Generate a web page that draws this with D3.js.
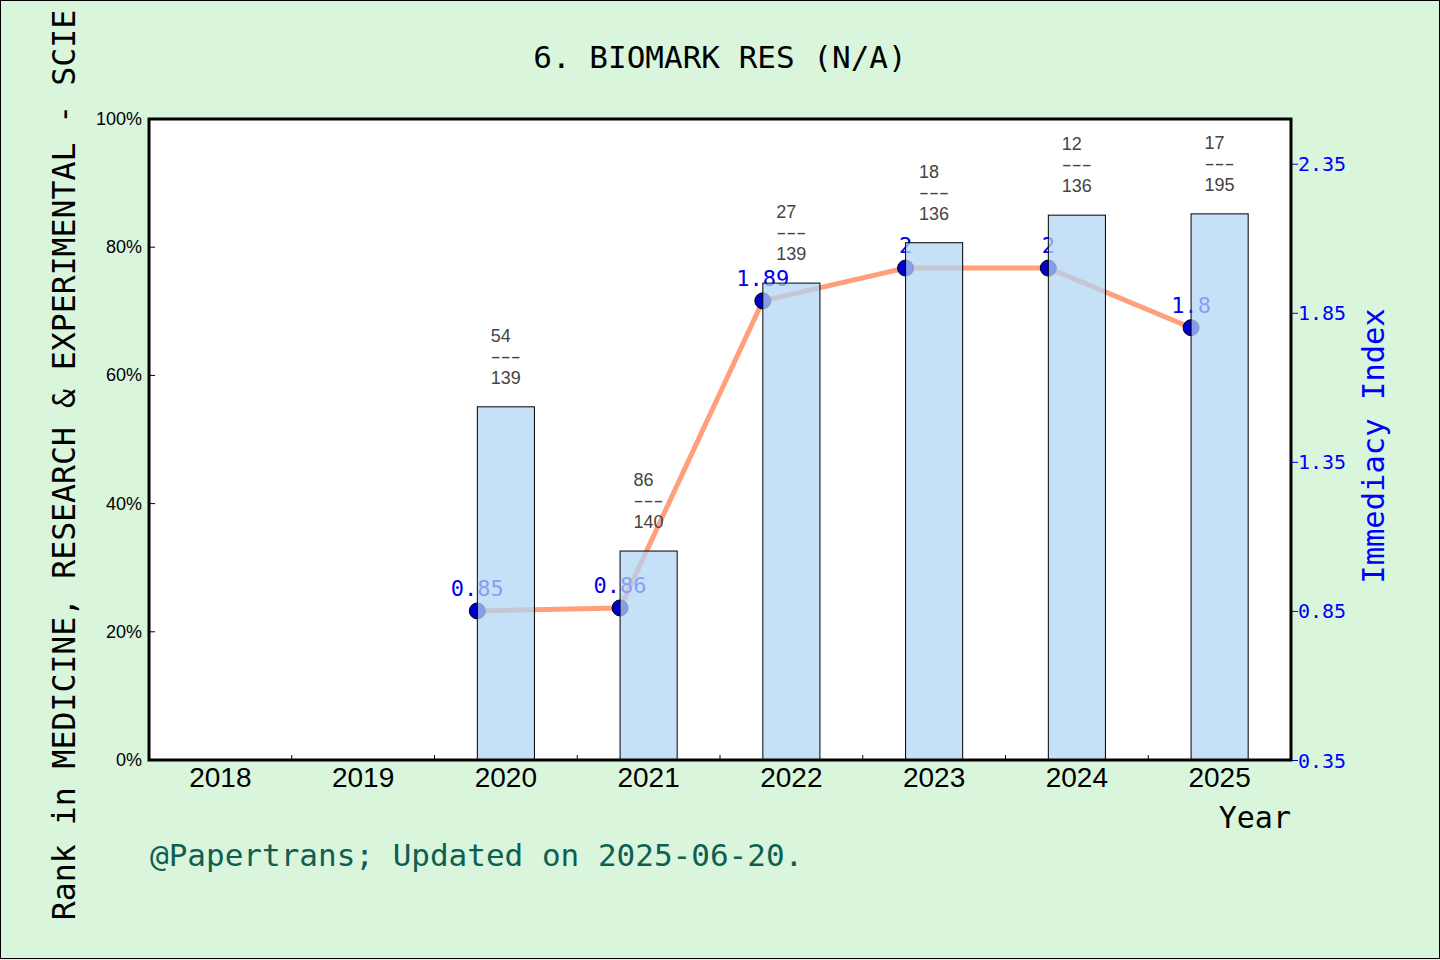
<!DOCTYPE html>
<html>
<head>
<meta charset="utf-8">
<script src="https://cdn.jsdelivr.net/npm/d3@7"></script>
<style>
  html, body { margin: 0; padding: 0; background: #d9f6dd; }
  svg { display: block; }
</style>
</head>
<body>
<div id="chart"></div>
<script>
var years = ["2018", "2019", "2020", "2021", "2022", "2023", "2024", "2025"];
var rankYears = ["2020", "2021", "2022", "2023", "2024", "2025"];
var rankPct = [55.1, 32.6, 74.4, 80.7, 85.0, 85.2];
var rankPos = ["54", "86", "27", "18", "12", "17"];
var rankTotal = ["139", "140", "139", "136", "136", "195"];
var iiValues = [0.85, 0.86, 1.89, 2, 2, 1.8];
var iiLabels = ["0.85", "0.86", "1.89", "2", "2", "1.8"];
var leftTicks = [0, 20, 40, 60, 80, 100];
var rightTicks = [0.35, 0.85, 1.35, 1.85, 2.35];

var width = 1440,
    height = 960,
    plotLeft = 149,
    plotRight = 1291,
    plotTop = 119,
    plotBottom = 760,
    mono = "'DejaVu Sans Mono', monospace",
    sans = "'Liberation Sans', Arial, sans-serif";

var svg = d3.select("#chart").append("svg")
    .attr("width", width)
    .attr("height", height);

// figure background + thin frame
svg.append("rect")
    .attr("x", 0.5).attr("y", 0.5)
    .attr("width", width - 1).attr("height", height - 2)
    .attr("fill", "#d9f6dd")
    .attr("stroke", "#000")
    .attr("stroke-width", 1);

var x = d3.scaleBand().domain(years).range([plotLeft, plotRight]).padding(0);
var bw = x.bandwidth();
var barW = bw * 0.4;
var barX = function(yr) { return x(yr) + bw * 0.3; };

var y = d3.scaleLinear().domain([0, 100]).range([plotBottom, plotTop]);
var y2 = d3.scaleLinear().domain([0.35, 2.5]).range([plotBottom, plotTop]);

// plot background
svg.append("rect")
    .attr("x", plotLeft).attr("y", plotTop)
    .attr("width", plotRight - plotLeft).attr("height", plotBottom - plotTop)
    .attr("fill", "#fff");

// immediacy line
var pts = rankYears.map(function(yr, i) { return { yr: yr, v: iiValues[i], label: iiLabels[i] }; });

svg.append("path")
    .datum(pts)
    .attr("fill", "none")
    .attr("stroke", "#ffa07a")
    .attr("stroke-width", 5)
    .attr("d", d3.line()
        .x(function(d) { return barX(d.yr); })
        .y(function(d) { return y2(d.v); }));

svg.selectAll("circle.pt")
    .data(pts)
    .enter().append("circle")
    .attr("class", "pt")
    .attr("cx", function(d) { return barX(d.yr); })
    .attr("cy", function(d) { return y2(d.v); })
    .attr("r", 8)
    .attr("fill", "#0000cd")
    .attr("stroke", "#000")
    .attr("stroke-width", 1);

svg.selectAll("text.ii")
    .data(pts)
    .enter().append("text")
    .attr("class", "ii")
    .attr("x", function(d) { return barX(d.yr); })
    .attr("y", function(d) { return y2(d.v) - 15; })
    .attr("text-anchor", "middle")
    .attr("font-family", mono)
    .attr("font-size", 22)
    .attr("fill", "#0000ee")
    .text(function(d) { return d.label; });

// rank bars (semi transparent, drawn over the line)
var bars = rankYears.map(function(yr, i) {
    return { yr: yr, p: rankPct[i], pos: rankPos[i], total: rankTotal[i] };
});

svg.selectAll("rect.bar")
    .data(bars)
    .enter().append("rect")
    .attr("class", "bar")
    .attr("x", function(d) { return barX(d.yr); })
    .attr("y", function(d) { return y(d.p); })
    .attr("width", barW)
    .attr("height", function(d) { return plotBottom - y(d.p); })
    .attr("fill", "rgb(178,213,244)")
    .attr("fill-opacity", 0.74)
    .attr("stroke", "#000")
    .attr("stroke-width", 1);

// rank annotations: "pos / --- / total", lines left aligned, block centered
bars.forEach(function(d) {
    var cx = barX(d.yr) + barW / 2;
    var top = y(d.p);
    var g = svg.append("g")
        .attr("font-family", sans)
        .attr("font-size", 18)
        .attr("fill", "#444");
    var t3 = g.append("text").attr("y", top - 23).text(d.total);
    var w = t3.node().getComputedTextLength();
    var left = cx - w / 2;
    t3.attr("x", left);
    g.append("text").attr("x", left).attr("y", top - 44)
        .attr("textLength", w).attr("lengthAdjust", "spacingAndGlyphs")
        .text("---");
    g.append("text").attr("x", left).attr("y", top - 65).text(d.pos);
});

// x ticks at band boundaries, pointing inward
var xb = d3.range(1, years.length).map(function(i) { return plotLeft + i * bw; });
svg.selectAll("line.xt")
    .data(xb)
    .enter().append("line")
    .attr("x1", function(d) { return d; }).attr("x2", function(d) { return d; })
    .attr("y1", plotBottom).attr("y2", plotBottom - 5)
    .attr("stroke", "#000").attr("stroke-width", 1);

svg.selectAll("text.xl")
    .data(years)
    .enter().append("text")
    .attr("x", function(d) { return x(d) + bw / 2; })
    .attr("y", plotBottom + 27)
    .attr("text-anchor", "middle")
    .attr("font-family", sans)
    .attr("font-size", 28)
    .attr("fill", "#000")
    .text(function(d) { return d; });

// left axis
svg.selectAll("line.yt")
    .data(leftTicks)
    .enter().append("line")
    .attr("x1", plotLeft).attr("x2", plotLeft + 6)
    .attr("y1", function(d) { return y(d); }).attr("y2", function(d) { return y(d); })
    .attr("stroke", "#000").attr("stroke-width", 1);

svg.selectAll("text.yl")
    .data(leftTicks)
    .enter().append("text")
    .attr("x", plotLeft - 7)
    .attr("y", function(d) { return y(d) + 6; })
    .attr("text-anchor", "end")
    .attr("font-family", sans)
    .attr("font-size", 18)
    .attr("fill", "#000")
    .text(function(d) { return d + "%"; });

// right axis
var right = svg.append("g")
    .attr("transform", "translate(" + plotRight + ",0)")
    .call(d3.axisRight(y2).tickValues(rightTicks).tickSize(6).tickPadding(1)
        .tickFormat(d3.format(".2f")));
right.select(".domain").remove();
right.selectAll("line").attr("stroke", "#0000ff").attr("transform", "translate(1,0)");
right.selectAll("text")
    .attr("font-family", mono)
    .attr("font-size", 20)
    .attr("fill", "#0000ff")
    .attr("dy", "0.35em");

// plot frame
svg.append("rect")
    .attr("x", plotLeft).attr("y", plotTop)
    .attr("width", plotRight - plotLeft).attr("height", plotBottom - plotTop)
    .attr("fill", "none")
    .attr("stroke", "#000")
    .attr("stroke-width", 3);

// titles
svg.append("text")
    .attr("x", 720).attr("y", 68)
    .attr("text-anchor", "middle")
    .attr("font-family", mono)
    .attr("font-size", 31)
    .attr("fill", "#000")
    .text("6. BIOMARK RES (N/A)");

svg.append("text")
    .attr("transform", "translate(75,465) rotate(-90)")
    .attr("text-anchor", "middle")
    .attr("font-family", mono)
    .attr("font-size", 31.5)
    .attr("fill", "#000")
    .text("Rank in MEDICINE, RESEARCH & EXPERIMENTAL - SCIE");

svg.append("text")
    .attr("transform", "translate(1384,446) rotate(-90)")
    .attr("text-anchor", "middle")
    .attr("font-family", mono)
    .attr("font-size", 30.5)
    .attr("fill", "#0000ff")
    .text("Immediacy Index");

svg.append("text")
    .attr("x", plotRight).attr("y", 828)
    .attr("text-anchor", "end")
    .attr("font-family", mono)
    .attr("font-size", 30)
    .attr("fill", "#000")
    .text("Year");

svg.append("text")
    .attr("x", 150).attr("y", 866)
    .attr("font-family", mono)
    .attr("font-size", 31)
    .attr("fill", "#0f5e52")
    .text("@Papertrans; Updated on 2025-06-20.");
</script>
</body>
</html>
